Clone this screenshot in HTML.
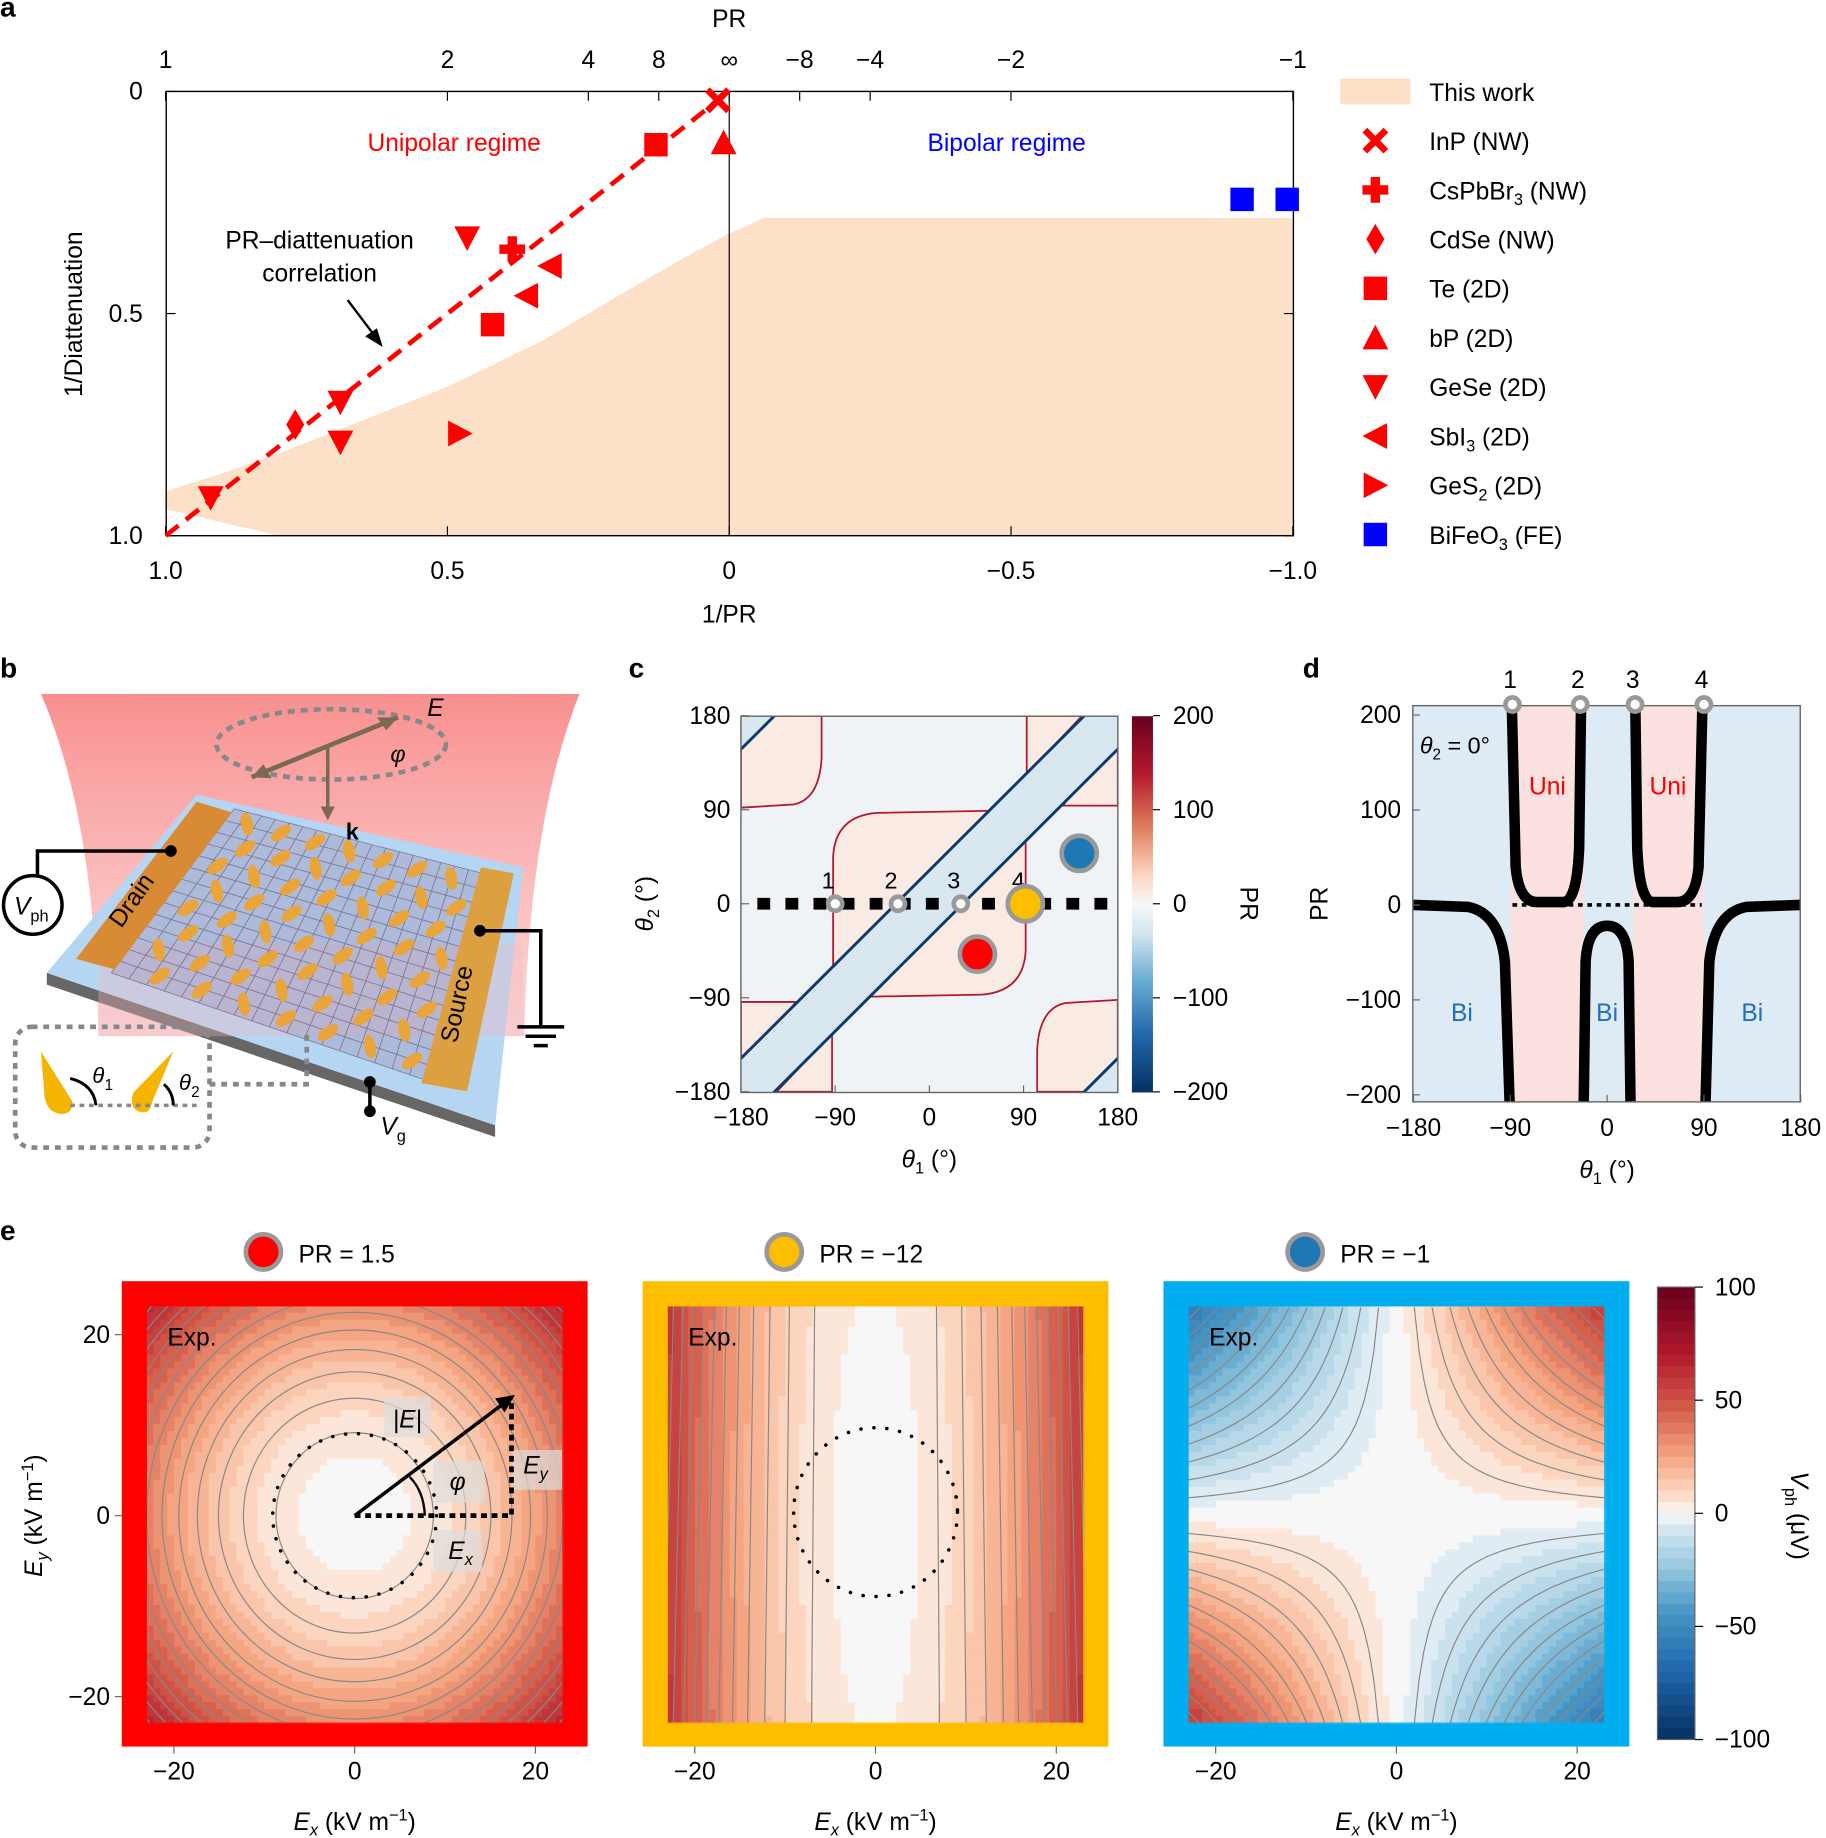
<!DOCTYPE html>
<html><head><meta charset="utf-8">
<style>
html,body{margin:0;padding:0;background:#fff;}
svg{display:block;font-family:"Liberation Sans",Arial,sans-serif;}
</style></head>
<body>
<svg id="fig" xmlns="http://www.w3.org/2000/svg" width="1826" height="1838" viewBox="0 0 1560 1568" preserveAspectRatio="none">
<defs>
<linearGradient id="beam" x1="0" y1="0" x2="0" y2="1"><stop offset="0" stop-color="#f98f8f"/><stop offset="1" stop-color="#fbc8c8" stop-opacity="0.7"/></linearGradient>
<linearGradient id="cbc" x1="0" y1="0" x2="0" y2="1"><stop offset="0" stop-color="#67001f"/><stop offset="0.15" stop-color="#b2182b"/><stop offset="0.3" stop-color="#e08060"/><stop offset="0.42" stop-color="#fbd5c0"/><stop offset="0.5" stop-color="#f7f7f7"/><stop offset="0.58" stop-color="#d1e5f0"/><stop offset="0.7" stop-color="#6aaed6"/><stop offset="0.85" stop-color="#2166ac"/><stop offset="1" stop-color="#053061"/></linearGradient>
<clipPath id="clipC"><rect x="633" y="611" width="322" height="321"/></clipPath>
<clipPath id="clipD"><rect x="1207" y="602" width="331" height="338"/></clipPath>
<clipPath id="clipE0"><rect x="125" y="1114" width="356" height="356"/></clipPath>
<clipPath id="clipE1"><rect x="570" y="1114" width="356" height="356"/></clipPath>
<clipPath id="clipE2"><rect x="1015" y="1114" width="356" height="356"/></clipPath>
</defs>
<g id="root"></g>
</svg>
<script>
// ---------- Panel a data ----------
const legendLabels = ["This work","InP (NW)","CsPbBr3 (NW)","CdSe (NW)","Te (2D)","bP (2D)","GeSe (2D)","SbI3 (2D)","GeS2 (2D)","BiFeO3 (FE)"];
const inpX = [0.02], inpY = [0.02];
const cspbX = [0.385], cspbY = [0.355];
const cdseX = [0.77], cdseY = [0.75];
const teX = [0.13, 0.42], teY = [0.12, 0.525];
const bpX = [0.01], bpY = [0.115];
const geseX = [0.465, 0.69, 0.69, 0.92], geseY = [0.33, 0.70, 0.79, 0.915];
const sbiX = [0.318, 0.36], sbiY = [0.393, 0.46];
const gesX = [0.478], gesY = [0.77];
const bfoX = [-0.91, -0.99], bfoY = [0.243, 0.243];
const bottomTicks = [1, 0.5, 0, -0.5, -1];
const bottomTickLabels = ["1.0","0.5","0","\u22120.5","\u22121.0"];
const topTickVals = [1, 0.5, 0.25, 0.125, 0, -0.125, -0.25, -0.5, -1];
const topTickLabels = ["1","2","4","8","\u221e","\u22128","\u22124","\u22122","\u22121"];
const leftTicks = [0, 0.5, 1];
const leftTickLabels = ["0","0.5","1.0"];
const shadeUpperX = [1, 0.9, 0.8, 0.67, 0.5, 0.33, 0.17, 0.06, 0, -0.06, -1];
const shadeUpperY = [0.9, 0.86, 0.815, 0.75, 0.665, 0.56, 0.44, 0.36, 0.32, 0.285, 0.285];
// ---------- Panel c/d data ----------
const cTicks = [-180,-90,0,90,180];
const cbarTicks = [200,100,0,-100,-200];
const dXTicks = [-180,-90,0,90,180];
const dYTicks = [200,100,0,-100,-200];
const dMarkTheta = [-88,-25,26,90];
const eTicks = [-20,0,20];
const eCbarTicks = [100,50,0,-50,-100];

const NS="http://www.w3.org/2000/svg";
const root=document.getElementById('root');
function el(tag,attrs,parent,text){const e=document.createElementNS(NS,tag);for(const k in attrs)e.setAttribute(k,attrs[k]);if(text!==undefined)e.textContent=text;(parent||root).appendChild(e);return e;}
function txt(x,y,s,size,anchor,parent,extra){const t=el('text',Object.assign({x:x,y:y,'font-size':size,'text-anchor':anchor||'middle'},extra||{}),parent,s);return t;}

[["a",0,14],["b",0,578],["c",537,578],["d",1113,578],["e",0,1058]].forEach(p=>{const t=txt(p[1],p[2],p[0],24,'start',null,{'font-weight':'bold'});});

// ===== Panel a =====
const ga=el('g',{});
const ax=v=>623-v*481.5, ay=v=>78+v*379;
let sp="M"+ax(shadeUpperX[0])+","+ay(shadeUpperY[0]);
for(let i=1;i<shadeUpperX.length;i++)sp+=" L"+ax(shadeUpperX[i])+","+ay(shadeUpperY[i]);
sp+=" L"+ax(-1)+","+ay(1)+" L"+ax(0.8)+","+ay(1)+" L"+ax(1)+","+ay(0.94)+" Z";
const shade=el('path',{d:sp,fill:'#fde0c8'},ga);
el('rect',{x:142,y:78,width:963,height:379,fill:'none',stroke:'#000','stroke-width':1.2},ga);
el('line',{x1:623,y1:78,x2:623,y2:457,stroke:'#000','stroke-width':1},ga);
bottomTicks.forEach((v,i)=>{el('line',{x1:ax(v),y1:457,x2:ax(v),y2:449,stroke:'#000'},ga);const t=txt(ax(v),494,bottomTickLabels[i],21,'middle',ga);});
topTickVals.forEach((v,i)=>{el('line',{x1:ax(v),y1:78,x2:ax(v),y2:86,stroke:'#000'},ga);const t=txt(ax(v),58,topTickLabels[i],21,'middle',ga);});
leftTicks.forEach((v,i)=>{el('line',{x1:142,y1:ay(v),x2:150,y2:ay(v),stroke:'#000'},ga);el('line',{x1:1105,y1:ay(v),x2:1097,y2:ay(v),stroke:'#000'},ga);const t=txt(122,ay(v)+7,leftTickLabels[i],21,'end',ga);});
let t0=txt(623,531,"1/PR",21,'middle',ga);
t0=txt(623,23,"PR",21,'middle',ga);
t0=txt(0,0,"1/Diattenuation",21,'middle',ga,{transform:'translate(70,268) rotate(-90)'});
t0=txt(388,129,"Unipolar regime",21,'middle',ga,{fill:'#f00'});
t0=txt(860,129,"Bipolar regime",21,'middle',ga,{fill:'#00f'});
t0=txt(273,212,"PR\u2013diattenuation",21,'middle',ga);
txt(273,240,"correlation",21,'middle',ga);
el('line',{x1:297,y1:256,x2:322,y2:289,stroke:'#000','stroke-width':2},ga);
el('path',{d:'M327,296 L312,287 L322,280 Z',fill:'#000'},ga);
const dl=el('line',{x1:ax(1),y1:ay(1),x2:ax(0.01),y2:ay(0.01),stroke:'#f00','stroke-width':4,'stroke-dasharray':'14,8'},ga);

function marker(type,cx,cy,s,color,parent){
  const c=color||'#f00';let e;
  if(type==='x')e=el('path',{d:`M${cx-s},${cy-s+4}L${cx-s+4},${cy-s}L${cx},${cy-4}L${cx+s-4},${cy-s}L${cx+s},${cy-s+4}L${cx+4},${cy}L${cx+s},${cy+s-4}L${cx+s-4},${cy+s}L${cx},${cy+4}L${cx-s+4},${cy+s}L${cx-s},${cy+s-4}L${cx-4},${cy}Z`,fill:c},parent);
  else if(type==='plus')e=el('path',{d:`M${cx-4},${cy-s}h8v${s-4}h${s-4}v8h${-(s-4)}v${s-4}h-8v${-(s-4)}h${-(s-4)}v-8h${s-4}Z`,fill:c},parent);
  else if(type==='diamond')e=el('path',{d:`M${cx},${cy-s-2}L${cx+s*0.7},${cy}L${cx},${cy+s+2}L${cx-s*0.7},${cy}Z`,fill:c},parent);
  else if(type==='square')e=el('rect',{x:cx-s+1,y:cy-s+1,width:2*s-2,height:2*s-2,fill:c},parent);
  else if(type==='up')e=el('path',{d:`M${cx},${cy-s}L${cx+s},${cy+s-1}L${cx-s},${cy+s-1}Z`,fill:c},parent);
  else if(type==='down')e=el('path',{d:`M${cx},${cy+s}L${cx+s},${cy-s+1}L${cx-s},${cy-s+1}Z`,fill:c},parent);
  else if(type==='left')e=el('path',{d:`M${cx-s},${cy}L${cx+s-1},${cy-s}L${cx+s-1},${cy+s}Z`,fill:c},parent);
  else if(type==='right')e=el('path',{d:`M${cx+s},${cy}L${cx-s+1},${cy-s}L${cx-s+1},${cy+s}Z`,fill:c},parent);
  return e;
}
const series=[["x",inpX,inpY,'#f00',"inp"],["plus",cspbX,cspbY,'#f00',"cspbbr3"],["diamond",cdseX,cdseY,'#f00',"cdse"],["square",teX,teY,'#f00',"te"],["up",bpX,bpY,'#f00',"bp"],["down",geseX,geseY,'#f00',"gese"],["left",sbiX,sbiY,'#f00',"sbi3"],["right",gesX,gesY,'#f00',"ges2"],["square",bfoX,bfoY,'#00f',"bifeo3"]];
series.forEach(s=>{for(let i=0;i<s[1].length;i++){const m=marker(s[0],ax(s[1][i]),ay(s[2][i]),11,s[3],ga);}});
const lg=el('g',{});
const legRows=[78,120,162,204,246,288,330,372,414,456];
const lr0=el('rect',{x:1145,y:67,width:60,height:22,fill:'#fde0c8'},lg);
series.forEach((s,i)=>{const m=marker(s[0],1175,legRows[i+1],11,s[3],lg);});
const subs={"CsPbBr3 (NW)":["CsPbBr","3"," (NW)"],"SbI3 (2D)":["SbI","3"," (2D)"],"GeS2 (2D)":["GeS","2"," (2D)"],"BiFeO3 (FE)":["BiFeO","3"," (FE)"]};
legendLabels.forEach((l,i)=>{const t=el('text',{x:1221,y:legRows[i]+8,'font-size':21},lg);
 if(subs[l]){el('tspan',{},t,subs[l][0]);el('tspan',{'font-size':14,dy:5},t,subs[l][1]);el('tspan',{dy:-5},t,subs[l][2]);}else t.textContent=l;});

// ===== Panel b (illustration) =====
const gb=el('g',{});
el('path',{d:'M35,592 L495,592 Q452,700 448,884 L84,884 Q82,700 35,592 Z',fill:'url(#beam)'},gb);
el('path',{d:'M40,830 L423,960 L423,970 L40,840 Z',fill:'#666'},gb);
el('path',{d:'M168,678 L447,740 L423,960 L40,830 Z',fill:'#b5d6f3'},gb);
el('path',{d:'M84,805 L446,805 L448,884 L84,884 Z',fill:'#f2b8c0',opacity:0.35},gb);
el('path',{d:'M200,690 L412,745 L365,922 L95,830 Z',fill:'#a39abd',opacity:0.45},gb);
const grid=el('g',{stroke:'#5a4a5a','stroke-width':0.7,fill:'none',opacity:0.6},gb);
const TL=[200,690],TR=[412,745],BR=[365,922],BL=[95,830];
function bil(u,v){const x=(1-u)*(1-v)*TL[0]+u*(1-v)*TR[0]+u*v*BR[0]+(1-u)*v*BL[0];const y=(1-u)*(1-v)*TL[1]+u*(1-v)*TR[1]+u*v*BR[1]+(1-u)*v*BL[1];return [x,y];}
for(let i=0;i<=14;i++){const a=bil(0,i/14),b=bil(1,i/14);el('line',{x1:a[0],y1:a[1],x2:b[0],y2:b[1]},grid);}
for(let i=0;i<=18;i++){const a=bil(i/18,0),b=bil(i/18,1);el('line',{x1:a[0],y1:a[1],x2:b[0],y2:b[1]},grid);}
const dr=el('path',{d:'M168,684 L198,693 L98,827 L65,818 Z',fill:'#d98a35'},gb);
const so=el('path',{d:'M411,740 L439,745 L399,931 L360,924 Z',fill:'#dca040'},gb);
txt(0,0,"Drain",21,'middle',gb,{transform:'translate(118,772) rotate(-55)'});
txt(0,0,"Source",21,'middle',gb,{transform:'translate(397,858) rotate(-78)'});
for(let r=0;r<8;r++)for(let c=0;c<7;c++){const p=bil(0.08+c*0.135+(r%2)*0.05,0.06+r*0.125);el('ellipse',{cx:p[0],cy:p[1],rx:5,ry:10,fill:'#eaa53a',transform:`rotate(${(r+c)%3===0?-10:55} ${p[0]} ${p[1]})`},gb);}
el('ellipse',{cx:283,cy:635,rx:98,ry:30,fill:'none',stroke:'#888','stroke-width':4,'stroke-dasharray':'6,5'},gb);
el('line',{x1:215,y1:663,x2:340,y2:612,stroke:'#7a6a55','stroke-width':4},gb);
el('line',{x1:280,y1:636,x2:280,y2:690,stroke:'#7a6a55','stroke-width':3},gb);
el('path',{d:'M340,612 L322,612 L330,623 Z M215,663 L232,664 L225,652 Z M280,700 L274,688 L286,688 Z',fill:'#7a6a55'},gb);
txt(372,611,"E",21,'middle',gb,{'font-style':'italic'});
txt(340,650,"\u03c6",20,'middle',gb,{'font-style':'italic'});
txt(301,716,"k",20,'middle',gb,{'font-weight':'bold'});
el('path',{d:'M146,726 L32,726 L32,748',stroke:'#000','stroke-width':3,fill:'none'},gb);
el('circle',{cx:146,cy:726,r:5,fill:'#000'},gb);
el('circle',{cx:28,cy:772,r:25,fill:'#fff',stroke:'#000','stroke-width':3},gb);
const vt=el('text',{x:12,y:780,'font-size':21,'font-style':'italic'},gb);el('tspan',{},vt,'V');el('tspan',{'font-size':14,dy:6,'font-style':'normal'},vt,'ph');
el('path',{d:'M410,794 L462,794 L462,876',stroke:'#000','stroke-width':3,fill:'none'},gb);
el('circle',{cx:410,cy:794,r:5,fill:'#000'},gb);
el('path',{d:'M442,876 h40 M449,884 h26 M456,892 h12',stroke:'#000','stroke-width':3},gb);
el('path',{d:'M316,923 L316,948',stroke:'#000','stroke-width':3},gb);
el('circle',{cx:316,cy:923,r:5,fill:'#000'},gb);el('circle',{cx:316,cy:948,r:5,fill:'#000'},gb);
const vg=el('text',{x:325,y:968,'font-size':21,'font-style':'italic'},gb);el('tspan',{},vg,'V');el('tspan',{'font-size':14,dy:6,'font-style':'normal'},vg,'g');
el('rect',{x:13,y:876,width:166,height:103,rx:14,fill:'none',stroke:'#888','stroke-width':4,'stroke-dasharray':'5,5'},gb);
el('path',{d:'M179,925 L262,925 L262,880',stroke:'#888','stroke-width':4,'stroke-dasharray':'5,5',fill:'none'},gb);
el('path',{d:'M35,897 L62,940 Q62,952 50,950 Q40,948 38,935 Z',fill:'#f4b400'},gb);
el('path',{d:'M148,897 L130,940 Q128,952 118,948 Q110,944 114,932 Z',fill:'#f4b400'},gb);
el('path',{d:'M60,943 H170',stroke:'#888','stroke-width':3,'stroke-dasharray':'4,4'},gb);
el('path',{d:'M82,943 Q80,925 60,920 M148,943 Q148,932 140,925',stroke:'#000','stroke-width':2.5,fill:'none'},gb);
txt(84,924,"\u03b8",19,'middle',gb,{'font-style':'italic'});txt(93,930,"1",13,'middle',gb);
txt(158,930,"\u03b8",19,'middle',gb,{'font-style':'italic'});txt(167,936,"2",13,'middle',gb);

// ===== Panel c =====
const gc=el('g',{});
const cx_=v=>794+v*0.894, cy_=v=>771-v*0.891;
el('rect',{x:633,y:611,width:322,height:321,fill:'#f0f3f6'},gc);
const gcc=el('g',{'clip-path':'url(#clipC)'},gc);
function P(a,b){return cx_(a)+","+cy_(b);}
const pink='#f9ebe4';
const lobes=[
 `M${P(-92,-62)} L${P(-92,45)} Q${P(-90,84)} ${P(-50,87)} L${P(59,89)} Z`,
 `M${P(92,62)} L${P(92,-45)} Q${P(90,-84)} ${P(50,-87)} L${P(-59,-89)} Z`,
 `M${P(-180,180)} L${P(-180,92)} L${P(-130,95)} Q${P(-105,100)} ${P(-103,140)} L${P(-103,180)} Z`,
 `M${P(180,-180)} L${P(180,-92)} L${P(130,-95)} Q${P(105,-100)} ${P(103,-140)} L${P(103,-180)} Z`,
 `M${P(93,180)} L${P(93,124)} L${P(146,180)} Z`,`M${P(180,180)} L${P(180,94)} L${P(128,94)} Z`,
 `M${P(-93,-180)} L${P(-93,-124)} L${P(-146,-180)} Z`,`M${P(-180,-180)} L${P(-180,-94)} L${P(-128,-94)} Z`
];
lobes.forEach(d=>el('path',{d:d,fill:pink,stroke:'#b2182b','stroke-width':1.5},gcc));
[0,360,-360].forEach(o=>{
 el('path',{d:`M${P(-250,-250+o-32)} L${P(250,250+o-32)} L${P(250,250+o+32)} L${P(-250,-250+o+32)} Z`,fill:'#d9e7f1'},gcc);
 el('line',{x1:cx_(-250),y1:cy_(-250+o-32),x2:cx_(250),y2:cy_(250+o-32),stroke:'#0b3a6e','stroke-width':2.5},gcc);
 el('line',{x1:cx_(-250),y1:cy_(-250+o+32),x2:cx_(250),y2:cy_(250+o+32),stroke:'#0b3a6e','stroke-width':2.5},gcc);
});
el('rect',{x:633,y:611,width:322,height:321,fill:'none',stroke:'#666','stroke-width':1.2},gc);
cTicks.forEach(v=>{el('line',{x1:cx_(v),y1:932,x2:cx_(v),y2:926,stroke:'#666'},gc);el('line',{x1:633,y1:cy_(v),x2:640,y2:cy_(v),stroke:'#666'},gc);
 const a=txt(cx_(v),960,v<0?"\u2212"+(-v):""+v,21,'middle',gc);
 const b=txt(624,cy_(v)+7,v<0?"\u2212"+(-v):""+v,21,'end',gc);});
const ct1=el('text',{x:794,y:996,'font-size':21,'text-anchor':'middle'},gc);el('tspan',{'font-style':'italic'},ct1,'\u03b8');el('tspan',{'font-size':14,dy:5},ct1,'1');el('tspan',{dy:-5},ct1,' (\u00b0)');

const ct2=el('text',{x:0,y:0,'font-size':21,'text-anchor':'middle',transform:'translate(558,771) rotate(-90)'},gc);el('tspan',{'font-style':'italic'},ct2,'\u03b8');el('tspan',{'font-size':14,dy:5},ct2,'2');el('tspan',{dy:-5},ct2,' (\u00b0)');
el('line',{x1:647,y1:771,x2:955,y2:771,stroke:'#000','stroke-width':10,'stroke-dasharray':'11,13'},gc);
[-90,-30,30].forEach((v,i)=>{el('circle',{cx:cx_(v),cy:771,r:6,fill:'#fff',stroke:'#999','stroke-width':4},gc);txt(cx_(v)-6,758,""+(i+1),20,'middle',gc);});
txt(870,758,"4",20,'middle',gc);
const m4=el('circle',{cx:876,cy:771,r:15,fill:'#fdbe00',stroke:'#999','stroke-width':4},gc);
const mr=el('circle',{cx:835,cy:814,r:15,fill:'#f00',stroke:'#999','stroke-width':4},gc);
const mb=el('circle',{cx:922,cy:728,r:15,fill:'#1f77b4',stroke:'#999','stroke-width':4},gc);
const cb=el('rect',{x:967,y:611,width:18,height:321,fill:'url(#cbc)'},gc);
cbarTicks.forEach(v=>{const y=771-v*0.8025;el('line',{x1:985,y1:y,x2:991,y2:y,stroke:'#000'},gc);const t=txt(1002,y+7,v<0?"\u2212"+(-v):""+v,21,'start',gc);});
txt(0,0,"PR",21,'middle',gc,{transform:'translate(1060,771) rotate(90)'});

// ===== Panel d =====
const gd=el('g',{});
const dx=v=>1373+v*0.919, dy=v=>772-v*0.81;
el('rect',{x:1207,y:602,width:331,height:338,fill:'#deeaf4'},gd);
el('rect',{x:dx(-90),y:602,width:dx(-22)-dx(-90),height:338,fill:'#fbe2e0'},gd);
el('rect',{x:dx(24),y:602,width:dx(90)-dx(24),height:338,fill:'#fbe2e0'},gd);
el('rect',{x:dx(-22),y:602,width:dx(24)-dx(-22),height:170,fill:'#deeaf4'},gd);
const gdd=el('g',{'clip-path':'url(#clipD)',fill:'none',stroke:'#000','stroke-width':9},gd);
const curves=[
 `M${dx(-180)},${dy(0)} L${dx(-130)},${dy(-2)} Q${dx(-100)},${dy(-8)} ${dx(-95)},${dy(-60)} L${dx(-90)},${dy(-230)}`,
 `M${dx(-89)},${dy(230)} L${dx(-85)},${dy(40)} Q${dx(-82)},${dy(3)} ${dx(-65)},${dy(3)} L${dx(-40)},${dy(3)} Q${dx(-28)},${dy(5)} ${dx(-26)},${dy(60)} L${dx(-24)},${dy(230)}`,
 `M${dx(-22)},${dy(-230)} L${dx(-20)},${dy(-60)} Q${dx(-18)},${dy(-22)} ${dx(0)},${dy(-22)} Q${dx(18)},${dy(-22)} ${dx(20)},${dy(-60)} L${dx(22)},${dy(-230)}`,
 `M${dx(26)},${dy(230)} L${dx(28)},${dy(60)} Q${dx(30)},${dy(5)} ${dx(42)},${dy(3)} L${dx(65)},${dy(3)} Q${dx(82)},${dy(3)} ${dx(85)},${dy(40)} L${dx(89)},${dy(230)}`,
 `M${dx(91)},${dy(-230)} L${dx(95)},${dy(-60)} Q${dx(100)},${dy(-8)} ${dx(130)},${dy(-2)} L${dx(180)},${dy(0)}`
];
curves.forEach(d=>{const p=el('path',{d:d},gdd);});
el('line',{x1:dx(-88),y1:dy(0),x2:dx(88),y2:dy(0),stroke:'#000','stroke-width':3,'stroke-dasharray':'4,4'},gd);
el('rect',{x:1207,y:602,width:331,height:338,fill:'none',stroke:'#666','stroke-width':1.2},gd);
dXTicks.forEach(v=>{el('line',{x1:dx(v),y1:940,x2:dx(v),y2:934,stroke:'#666'},gd);const t=txt(dx(v),969,v<0?"\u2212"+(-v):""+v,21,'middle',gd);});
dYTicks.forEach(v=>{el('line',{x1:1207,y1:dy(v),x2:1213,y2:dy(v),stroke:'#666'},gd);const t=txt(1197,dy(v)+7,v<0?"\u2212"+(-v):""+v,21,'end',gd);});
dMarkTheta.forEach((v,i)=>{el('circle',{cx:dx(v),cy:601,r:6,fill:'#fff',stroke:'#999','stroke-width':4},gd);txt(dx(v)-2,587,""+(i+1),21,'middle',gd);});
const dt=el('text',{x:1373,y:1005,'font-size':21,'text-anchor':'middle'},gd);el('tspan',{'font-style':'italic'},dt,'\u03b8');el('tspan',{'font-size':14,dy:5},dt,'1');el('tspan',{dy:-5},dt,' (\u00b0)');
txt(0,0,"PR",21,'middle',gd,{transform:'translate(1134,771) rotate(-90)'});
const d2=el('text',{x:1213,y:643,'font-size':20},gd);el('tspan',{'font-style':'italic'},d2,'\u03b8');el('tspan',{'font-size':13,dy:5},d2,'2');el('tspan',{dy:-5},d2,' = 0\u00b0');
[[1322,'Uni','#f00',678],[1425,'Uni','#f00',678],[1249,'Bi','#1f6fc0',871],[1373,'Bi','#1f6fc0',871],[1497,'Bi','#1f6fc0',871]].forEach(a=>{const t=txt(a[0],a[3],a[1],21,'middle',gd,{fill:a[2]});});

// ===== Panel e =====
function cmap(v){
 const st=[[-100,[5,48,97]],[-70,[33,102,172]],[-45,[67,147,195]],[-25,[146,197,222]],[-8,[209,229,240]],[0,[247,247,247]],[8,[253,219,199]],[25,[244,165,130]],[45,[214,96,77]],[70,[178,24,43]],[100,[103,0,31]]];
 v=Math.max(-100,Math.min(100,v));
 for(let i=0;i<st.length-1;i++){if(v<=st[i+1][0]){const f=(v-st[i][0])/(st[i+1][0]-st[i][0]);const c=st[i][1].map((a,j)=>Math.round(a+(st[i+1][1][j]-a)*f));return `rgb(${c})`;}}
 return 'rgb(103,0,31)';
}
const eFields=[(x,y)=>0.066*(x*x+0.9*y*y),(x,y)=>0.11*x*x+0.004*y*y,(x,y)=>0.11*x*y];
const panels=[{cx:303,col:'#f00',pr:'PR = 1.5',dot:'#f00',name:'pr-1.5'},{cx:748,col:'#fdbe00',pr:'PR = \u221212',dot:'#fdbe00',name:'pr-neg12'},{cx:1193,col:'#00aeef',pr:'PR = \u22121',dot:'#1f77b4',name:'pr-neg1'}];
const ex=(c,v)=>c+v*7.72, ey=v=>1293-v*7.72;
panels.forEach((p,pi)=>{
 const g=el('g',{});
 el('rect',{x:p.cx-199,y:1093,width:398,height:397,fill:p.col},g);
 const N=60,x0=p.cx-178,y0=1114,W=356,cw=W/N;
 for(let i=0;i<N;i++)for(let j=0;j<N;j++){const xv=-23+(i+0.5)*46/N,yv=23-(j+0.5)*46/N;let v=eFields[pi](xv,yv);v=Math.round(v/5)*5;el('rect',{x:(x0+i*cw).toFixed(1),y:(y0+j*cw).toFixed(1),width:(cw+0.6).toFixed(1),height:(cw+0.6).toFixed(1),fill:cmap(v)},g);}
 const gl=el('g',{fill:'none',stroke:'#888','stroke-width':1,'clip-path':'url(#clipE'+pi+')'},g);
 if(pi===0){for(let k=1;k<14;k++)el('ellipse',{cx:p.cx,cy:1293,rx:Math.sqrt(k*5/0.066)*7.72,ry:Math.sqrt(k*5/(0.066*0.9))*7.72},gl);}
 if(pi===1){for(let k=1;k<13;k++){const xv=Math.sqrt(k*5/0.11);[-1,1].forEach(s=>el('line',{x1:ex(p.cx,s*xv),y1:1114,x2:ex(p.cx,s*xv*1.05),y2:1470},gl));}}
 if(pi===2){for(let k=1;k<13;k++){const c=k*5/0.11;[1,-1].forEach(sg=>[1,-1].forEach(sx=>{let d='';for(let q=0;q<=40;q++){const xv=sx*(c/23+(23-c/23)*q/40);const yv=sg*c/xv*sx*sx;d+=(q?'L':'M')+ex(p.cx,xv).toFixed(1)+','+ey(sg*c/Math.abs(xv)*(sx>0?1:-1)*(sg>0?1:1)).toFixed(1);}el('path',{d:d},gl);}));}}
 el('rect',{x:x0,y:1114,width:W,height:356,fill:'none',stroke:p.col,'stroke-width':1},g);
 const lab=txt(x0+18,1148,'Exp.',21,'start',g);
 el('circle',{cx:p.cx-78,cy:1068,r:15,fill:p.dot,stroke:'#999','stroke-width':4},g);
 const tt=txt(p.cx-48,1077,p.pr,21,'start',g);
 eTicks.forEach(v=>{el('line',{x1:ex(p.cx,v),y1:1490,x2:ex(p.cx,v),y2:1496,stroke:'#666'},g);const t=txt(ex(p.cx,v),1518,v<0?"\u2212"+(-v):""+v,21,'middle',g);});
 const xt=el('text',{x:p.cx,y:1561,'font-size':21,'text-anchor':'middle'},g);el('tspan',{'font-style':'italic'},xt,'E');el('tspan',{'font-size':14,dy:5,'font-style':'italic'},xt,'x');el('tspan',{dy:-5},xt,' (kV m');el('tspan',{'font-size':14,dy:-8},xt,'\u22121');el('tspan',{dy:8},xt,')');
 
});
eTicks.forEach(v=>{el('line',{x1:98,y1:ey(v),x2:104,y2:ey(v),stroke:'#666'});const t=txt(94,ey(v)+7,v<0?"\u2212"+(-v):""+v,21,'end');});
const yt=el('text',{x:0,y:0,'font-size':21,'text-anchor':'middle',transform:'translate(36,1293) rotate(-90)'});el('tspan',{'font-style':'italic'},yt,'E');el('tspan',{'font-size':14,dy:5,'font-style':'italic'},yt,'y');el('tspan',{dy:-5},yt,' (kV m');el('tspan',{'font-size':14,dy:-8},yt,'\u22121');el('tspan',{dy:8},yt,')');

const an=el('g',{});
[[328,1192,40,34],[370,1246,44,36],[370,1305,42,36],[438,1237,42,34]].forEach(r=>el('rect',{x:r[0],y:r[1],width:r[2],height:r[3],fill:'#ddd',opacity:0.7},an));
el('line',{x1:303,y1:1293,x2:432,y2:1196,stroke:'#000','stroke-width':3},an);
el('path',{d:'M440,1190 L423,1193 L431,1205 Z',fill:'#000'},an);
el('path',{d:'M303,1293 H437 V1196',stroke:'#000','stroke-width':4,'stroke-dasharray':'5,4',fill:'none'},an);
el('path',{d:'M363,1293 Q362,1272 350,1260',stroke:'#000','stroke-width':2,fill:'none'},an);
txt(348,1218,'|E|',21,'middle',an,{'font-style':'italic'});
txt(391,1271,'\u03c6',21,'middle',an,{'font-style':'italic'});
const ext=el('text',{x:383,y:1330,'font-size':21,'font-style':'italic'},an);el('tspan',{},ext,'E');el('tspan',{'font-size':14,dy:5},ext,'x');
const eyt=el('text',{x:447,y:1257,'font-size':21,'font-style':'italic'},an);el('tspan',{},eyt,'E');el('tspan',{'font-size':14,dy:5},eyt,'y');
el('circle',{cx:303,cy:1293,r:70,fill:'none',stroke:'#000','stroke-width':3,'stroke-dasharray':'0.1,11','stroke-linecap':'round'},an);
el('ellipse',{cx:748,cy:1290,rx:70,ry:72,fill:'none',stroke:'#000','stroke-width':3,'stroke-dasharray':'0.1,11','stroke-linecap':'round'});
const ecb=el('g',{});
for(let k=0;k<40;k++){const v=100-(k+0.5)*5;el('rect',{x:1416,y:1098+k*9.65,width:32,height:10,fill:cmap(v)},ecb);}
el('rect',{x:1416,y:1098,width:32,height:386,fill:'none',stroke:'#666'},ecb);
eCbarTicks.forEach(v=>{const y=1291-v*1.93;el('line',{x1:1448,y1:y,x2:1455,y2:y,stroke:'#000'},ecb);const t=txt(1465,y+7,v<0?"\u2212"+(-v):""+v,21,'start',ecb);});
const vph=el('text',{x:0,y:0,'font-size':21,'text-anchor':'middle',transform:'translate(1530,1293) rotate(90)'},ecb);el('tspan',{'font-style':'italic'},vph,'V');el('tspan',{'font-size':14,dy:5},vph,'ph');el('tspan',{dy:-5},vph,' (\u03bcV)');
</script>
</body></html>
